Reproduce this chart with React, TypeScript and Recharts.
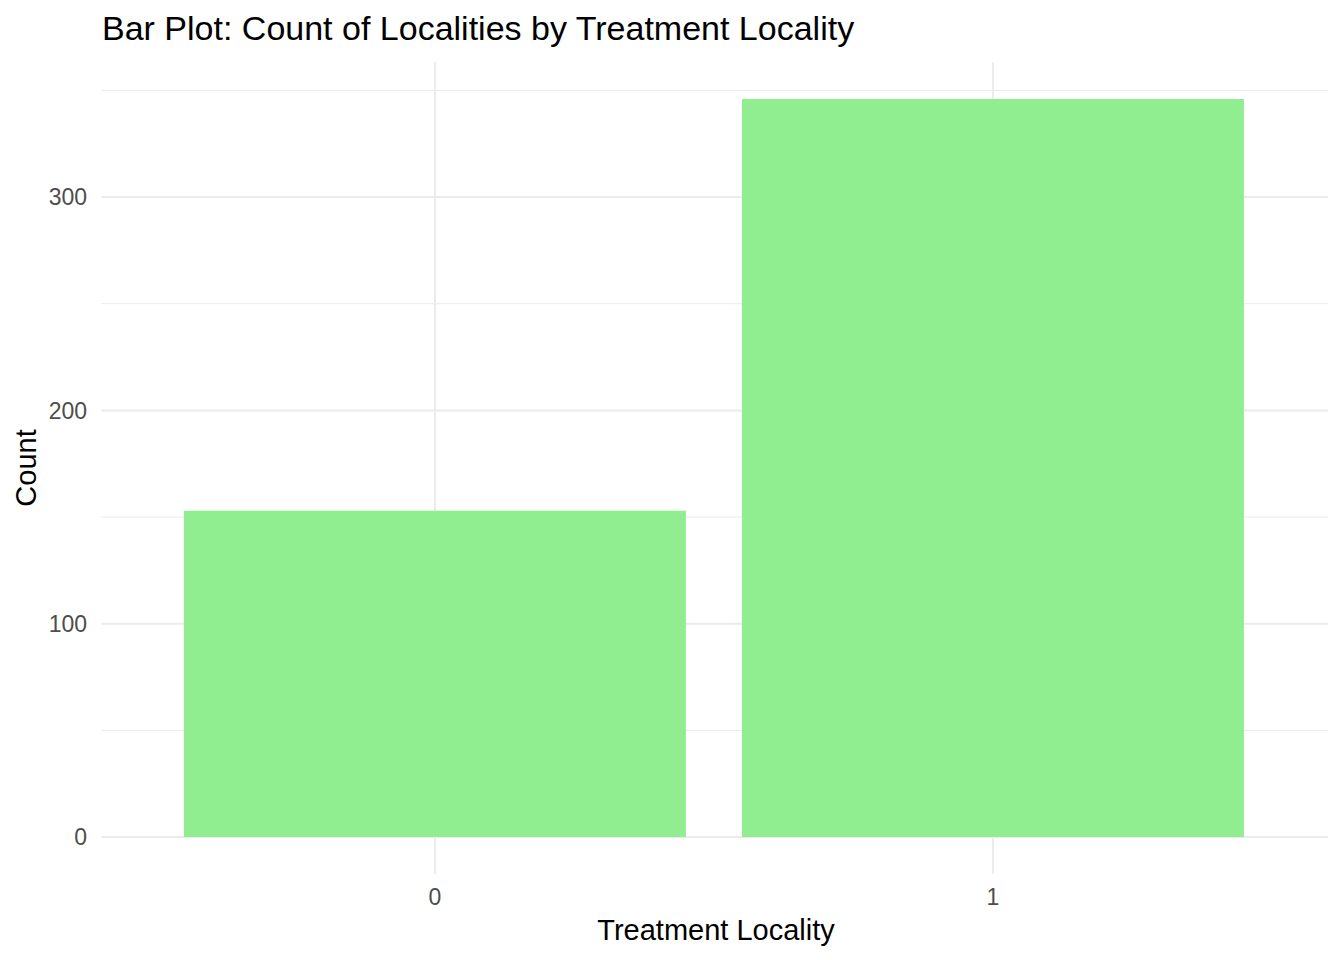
import React from 'react';
import { BarChart, Bar, XAxis, YAxis, CartesianGrid } from 'recharts';

const categories = ['0', '1'];
const counts = [153, 346];
const yTicks = [0, 100, 200, 300];
const yMinorTicks = [50, 150, 250, 350];
const yDomain = [-17.3, 363.3];

const data = categories.map((c, i) => ({ locality: c, count: counts[i] }));

const FONT = '"Liberation Sans", Arial, sans-serif';

export default function App() {
  return (
    <div
      style={{
        position: 'absolute',
        left: 0,
        top: 0,
        width: 1344,
        height: 960,
        background: '#ffffff',
        fontFamily: FONT,
      }}
    >
      <BarChart
        width={1344}
        height={960}
        data={data}
        margin={{ top: 62, right: 16, bottom: 0, left: 0 }}
        barCategoryGap="5%"
      >
        <CartesianGrid
          yAxisId="minor"
          stroke="#EBEBEB"
          strokeWidth={1}
          vertical={false}
          syncWithTicks
        />
        <CartesianGrid
          yAxisId="main"
          stroke="#EBEBEB"
          strokeWidth={2}
          syncWithTicks
        />
        <XAxis
          dataKey="locality"
          type="category"
          padding={{ left: 55, right: 56 }}
          height={86}
          tickLine={false}
          axisLine={false}
          tickSize={0}
          tickMargin={15}
          tick={{ fill: '#4D4D4D', fontSize: 23, fontFamily: FONT }}
        />
        <YAxis
          yAxisId="main"
          type="number"
          domain={yDomain}
          ticks={yTicks}
          allowDataOverflow
          width={101}
          tickLine={false}
          axisLine={false}
          tickSize={0}
          tickMargin={14}
          tick={{ fill: '#4D4D4D', fontSize: 23, fontFamily: FONT }}
        />
        <YAxis
          yAxisId="minor"
          type="number"
          domain={yDomain}
          ticks={yMinorTicks}
          allowDataOverflow
          hide
        />
        <Bar
          yAxisId="main"
          dataKey="count"
          fill="#90EE90"
          isAnimationActive={false}
        />
      </BarChart>
      <svg
        width={1344}
        height={960}
        style={{ position: 'absolute', left: 0, top: 0, pointerEvents: 'none' }}
      >
        <text x={102} y={40} fontSize={34} fontFamily={FONT} fill="#000000">
          Bar Plot: Count of Localities by Treatment Locality
        </text>
        <text
          x={716}
          y={940}
          fontSize={29}
          fontFamily={FONT}
          fill="#000000"
          textAnchor="middle"
        >
          Treatment Locality
        </text>
        <text
          x={36}
          y={468}
          fontSize={29}
          fontFamily={FONT}
          fill="#000000"
          textAnchor="middle"
          transform="rotate(-90 36 468)"
        >
          Count
        </text>
      </svg>
    </div>
  );
}
